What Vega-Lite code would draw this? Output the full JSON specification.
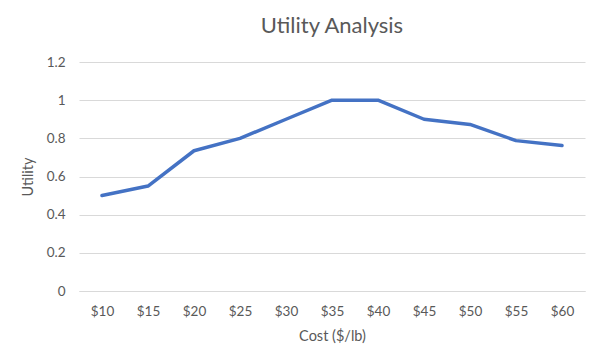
{
  "$schema": "https://vega.github.io/schema/vega-lite/v6.json",
  "width": 506,
  "height": 229,
  "autosize": {"type": "none"},
  "padding": {"left": 79, "top": 62, "right": 17, "bottom": 72},
  "background": "white",
  "title": {
    "text": "Utility Analysis",
    "font": "Lato",
    "fontSize": 22,
    "fontWeight": "normal",
    "color": "#595959",
    "anchor": "middle",
    "offset": 17
  },
  "config": {
    "view": {"stroke": null},
    "axis": {
      "labelFont": "Lato",
      "titleFont": "Lato",
      "labelColor": "#595959",
      "titleColor": "#595959",
      "labelFontSize": 13.5,
      "titleFontSize": 14.5,
      "titleFontWeight": "normal"
    }
  },
  "data": {
    "values": [
      {"cost": "$10", "utility": 0.5},
      {"cost": "$15", "utility": 0.55},
      {"cost": "$20", "utility": 0.735},
      {"cost": "$25", "utility": 0.8},
      {"cost": "$30", "utility": 0.9},
      {"cost": "$35", "utility": 1.0},
      {"cost": "$40", "utility": 1.0},
      {"cost": "$45", "utility": 0.9},
      {"cost": "$50", "utility": 0.873},
      {"cost": "$55", "utility": 0.788},
      {"cost": "$60", "utility": 0.762}
    ]
  },
  "mark": {"type": "line", "color": "#4472C4", "strokeWidth": 3.5, "strokeCap": "round", "strokeJoin": "round"},
  "encoding": {
    "x": {
      "field": "cost",
      "type": "ordinal",
      "sort": null,
      "scale": {"type": "point", "padding": 0.5},
      "axis": {
        "title": "Cost ($/lb)",
        "labelAngle": 0,
        "ticks": false,
        "domainColor": "#d9d9d9",
        "domainWidth": 1,
        "labelPadding": 13,
        "titlePadding": 12,
        "grid": false
      }
    },
    "y": {
      "field": "utility",
      "type": "quantitative",
      "scale": {"domain": [0, 1.2]},
      "axis": {
        "title": "Utility",
        "values": [0, 0.2, 0.4, 0.6, 0.8, 1, 1.2],
        "format": "~g",
        "ticks": false,
        "domain": false,
        "gridColor": "#d9d9d9",
        "labelPadding": 14,
        "titlePadding": 11
      }
    }
  }
}
